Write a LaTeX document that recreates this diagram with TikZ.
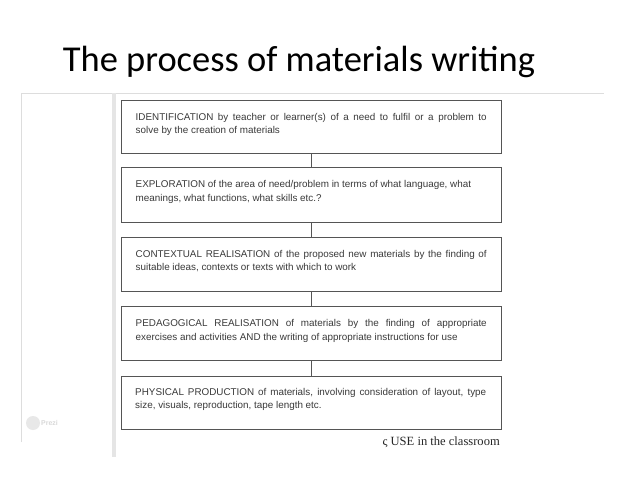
\documentclass[tikz,border=0pt]{standalone}
\usepackage{fontspec}
\setmainfont{Liberation Sans}
\newfontfamily\titlefont{Carlito}
\newfontfamily\serifont{Liberation Serif}
\usetikzlibrary{calc}
\definecolor{scanink}{HTML}{3A3A3A}
\definecolor{boxline}{HTML}{555555}
\definecolor{framegray}{HTML}{DDDDDD}
\begin{document}
\begin{tikzpicture}[x=1bp,y=-1bp,
  stepbox/.style={draw=boxline, line width=0.9bp, minimum width=379.5bp, inner sep=0pt},
  boxtext/.style={anchor=north west, inner sep=0pt, text width=351bp, align=justify, text=scanink,
    font=\fontsize{9.9}{13.5}\selectfont},
  link/.style={draw=boxline, line width=0.9bp}]
\useasboundingbox (0,0) rectangle (638,479);
\fill[white] (0,0) rectangle (638,479);
% title
\node[anchor=base, inner sep=0pt, font=\titlefont\fontsize{36.6}{40}\selectfont] (title) at (299,72) {The process of materials writing};
% scan frame
\draw[framegray, line width=0.8bp] (21,442) -- (21,93) -- (604,93);
\fill[gray!20] (112,93) rectangle (116,457);
% prezi logo
\fill[gray!18] (33,423) circle (7);
\node[anchor=west, inner sep=0pt, text=gray!30, font=\bfseries\fontsize{7}{8}\selectfont] (prezi) at (41,423) {Prezi};
% boxes
\node[stepbox, minimum height=53bp] (b1) at (311.25,126.5) {};
\node[stepbox, minimum height=55bp] (b2) at (311.25,194.5) {};
\node[stepbox, minimum height=54bp] (b3) at (311.25,264) {};
\node[stepbox, minimum height=54bp] (b4) at (311.25,333) {};
\node[stepbox, minimum height=53bp] (b5) at (311.25,402.5) {};
\draw[link] (b1.south) -- (b2.north);
\draw[link] (b2.south) -- (b3.north);
\draw[link] (b3.south) -- (b4.north);
\draw[link] (b4.south) -- (b5.north);
% texts
\node[boxtext] (t1) at ($(b1.north west)+(14.5,13.5)$) {IDENTIFICATION by teacher or learner(s) of a need to fulfil or a problem to\linebreak solve by the creation of materials};
\node[boxtext] (t2) at ($(b2.north west)+(14.5,14)$) {EXPLORATION of the area of need/problem in terms of what language, what\\meanings, what functions, what skills etc.?};
\node[boxtext] (t3) at ($(b3.north west)+(14.5,13.5)$) {CONTEXTUAL REALISATION of the proposed new materials by the finding of\linebreak suitable ideas, contexts or texts with which to work};
\node[boxtext] (t4) at ($(b4.north west)+(14.5,14)$) {PEDAGOGICAL REALISATION of materials by the finding of appropriate\linebreak exercises and activities AND the writing of appropriate instructions for use};
\node[boxtext] (t5) at ($(b5.north west)+(14,12.5)$) {PHYSICAL PRODUCTION of materials, involving consideration of layout, type\linebreak size, visuals, reproduction, tape length etc.};
\node[anchor=base east, inner sep=0pt, text=black!85, font=\serifont\fontsize{12.6}{14}\selectfont] (use) at (500,445) {ς USE in the classroom};
\end{tikzpicture}
\end{document}
